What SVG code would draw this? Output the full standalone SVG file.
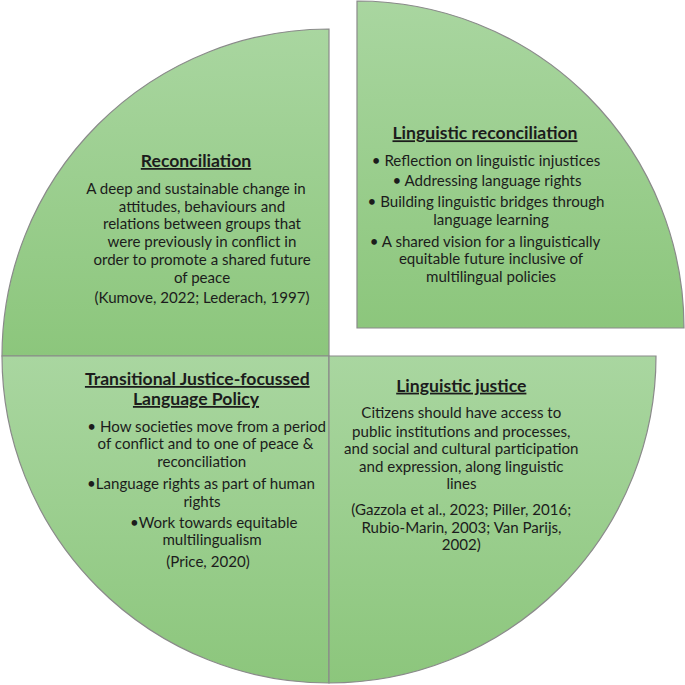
<svg xmlns="http://www.w3.org/2000/svg" width="685" height="685" viewBox="0 0 685 685">
<defs>
<linearGradient id="g" x1="0" y1="0" x2="0" y2="1">
<stop offset="0" stop-color="#a9d6a0"/>
<stop offset="1" stop-color="#8cc67c"/>
</linearGradient>
<style>
.q{fill:url(#g);stroke:#8a8a8a;stroke-width:1.2}
text{font-family:Lato,"Liberation Sans",sans-serif;fill:#1c1c1c;text-anchor:middle}
.b{font-size:15.1px}
.t{font-size:17.6px;font-weight:bold;text-decoration:underline}
</style>
</defs>
<rect width="685" height="685" fill="#ffffff"/>
<g id="reconciliation">
<path class="q" d="M329,356 L2,356 A327,327 0 0 1 329,29 Z"/>
<text class="t" x="196" y="167">Reconciliation</text>
<text class="b" x="196" y="194">A deep and sustainable change in</text>
<text class="b" x="202" y="211.7">attitudes, behaviours and</text>
<text class="b" x="202" y="229.4">relations between groups that</text>
<text class="b" x="202" y="247.1">were previously in conflict in</text>
<text class="b" x="202" y="264.8">order to promote a shared future</text>
<text class="b" x="202" y="282.5">of peace</text>
<text class="b" x="202" y="303.3">(Kumove, 2022; Lederach, 1997)</text>
</g>
<g id="linguistic-reconciliation">
<path class="q" d="M357,328 L357,1 A327,327 0 0 1 684,328 Z"/>
<text class="t" x="485" y="139.3">Linguistic reconciliation</text>
<text class="b" x="486" y="166">• Reflection on linguistic injustices</text>
<text class="b" x="487" y="186">• Addressing language rights</text>
<text class="b" x="486" y="206.7">• Building linguistic bridges through</text>
<text class="b" x="491" y="225">language learning</text>
<text class="b" x="485" y="246.7">• A shared vision for a linguistically</text>
<text class="b" x="491" y="264.3">equitable future inclusive of</text>
<text class="b" x="491" y="281.7">multilingual policies</text>
</g>
<g id="transitional-justice">
<path class="q" d="M329,356 L329,683 A327,327 0 0 1 2,356 Z"/>
<text class="t" x="197.3" y="385">Transitional Justice-focussed</text>
<text class="t" x="196" y="405">Language Policy</text>
<text class="b" x="206.7" y="431.7">•  How societies move from a period</text>
<text class="b" x="205.5" y="449.3">of conflict and to one of peace &amp;</text>
<text class="b" x="201.7" y="467.3">reconciliation</text>
<text class="b" x="201" y="489.3">•Language rights as part of human</text>
<text class="b" x="202" y="506.7">rights</text>
<text class="b" x="213.7" y="528.3">•Work towards equitable</text>
<text class="b" x="212" y="545">multilingualism</text>
<text class="b" x="208" y="566.7">(Price, 2020)</text>
</g>
<g id="linguistic-justice">
<path class="q" d="M329,356 L656,356 A327,327 0 0 1 329,683 Z"/>
<text class="t" x="461.3" y="391.7">Linguistic justice</text>
<text class="b" x="461.3" y="418.3">Citizens should have access to</text>
<text class="b" x="461.3" y="436.7">public institutions and processes,</text>
<text class="b" x="461.3" y="454">and social and cultural participation</text>
<text class="b" x="461.3" y="471.7">and expression, along linguistic</text>
<text class="b" x="461.5" y="489.3">lines</text>
<text class="b" x="461.3" y="515">(Gazzola et al., 2023; Piller, 2016;</text>
<text class="b" x="461.5" y="532.7">Rubio-Marin, 2003; Van Parijs,</text>
<text class="b" x="461.3" y="550">2002)</text>
</g>
<g id="connectors"/>
</svg>
